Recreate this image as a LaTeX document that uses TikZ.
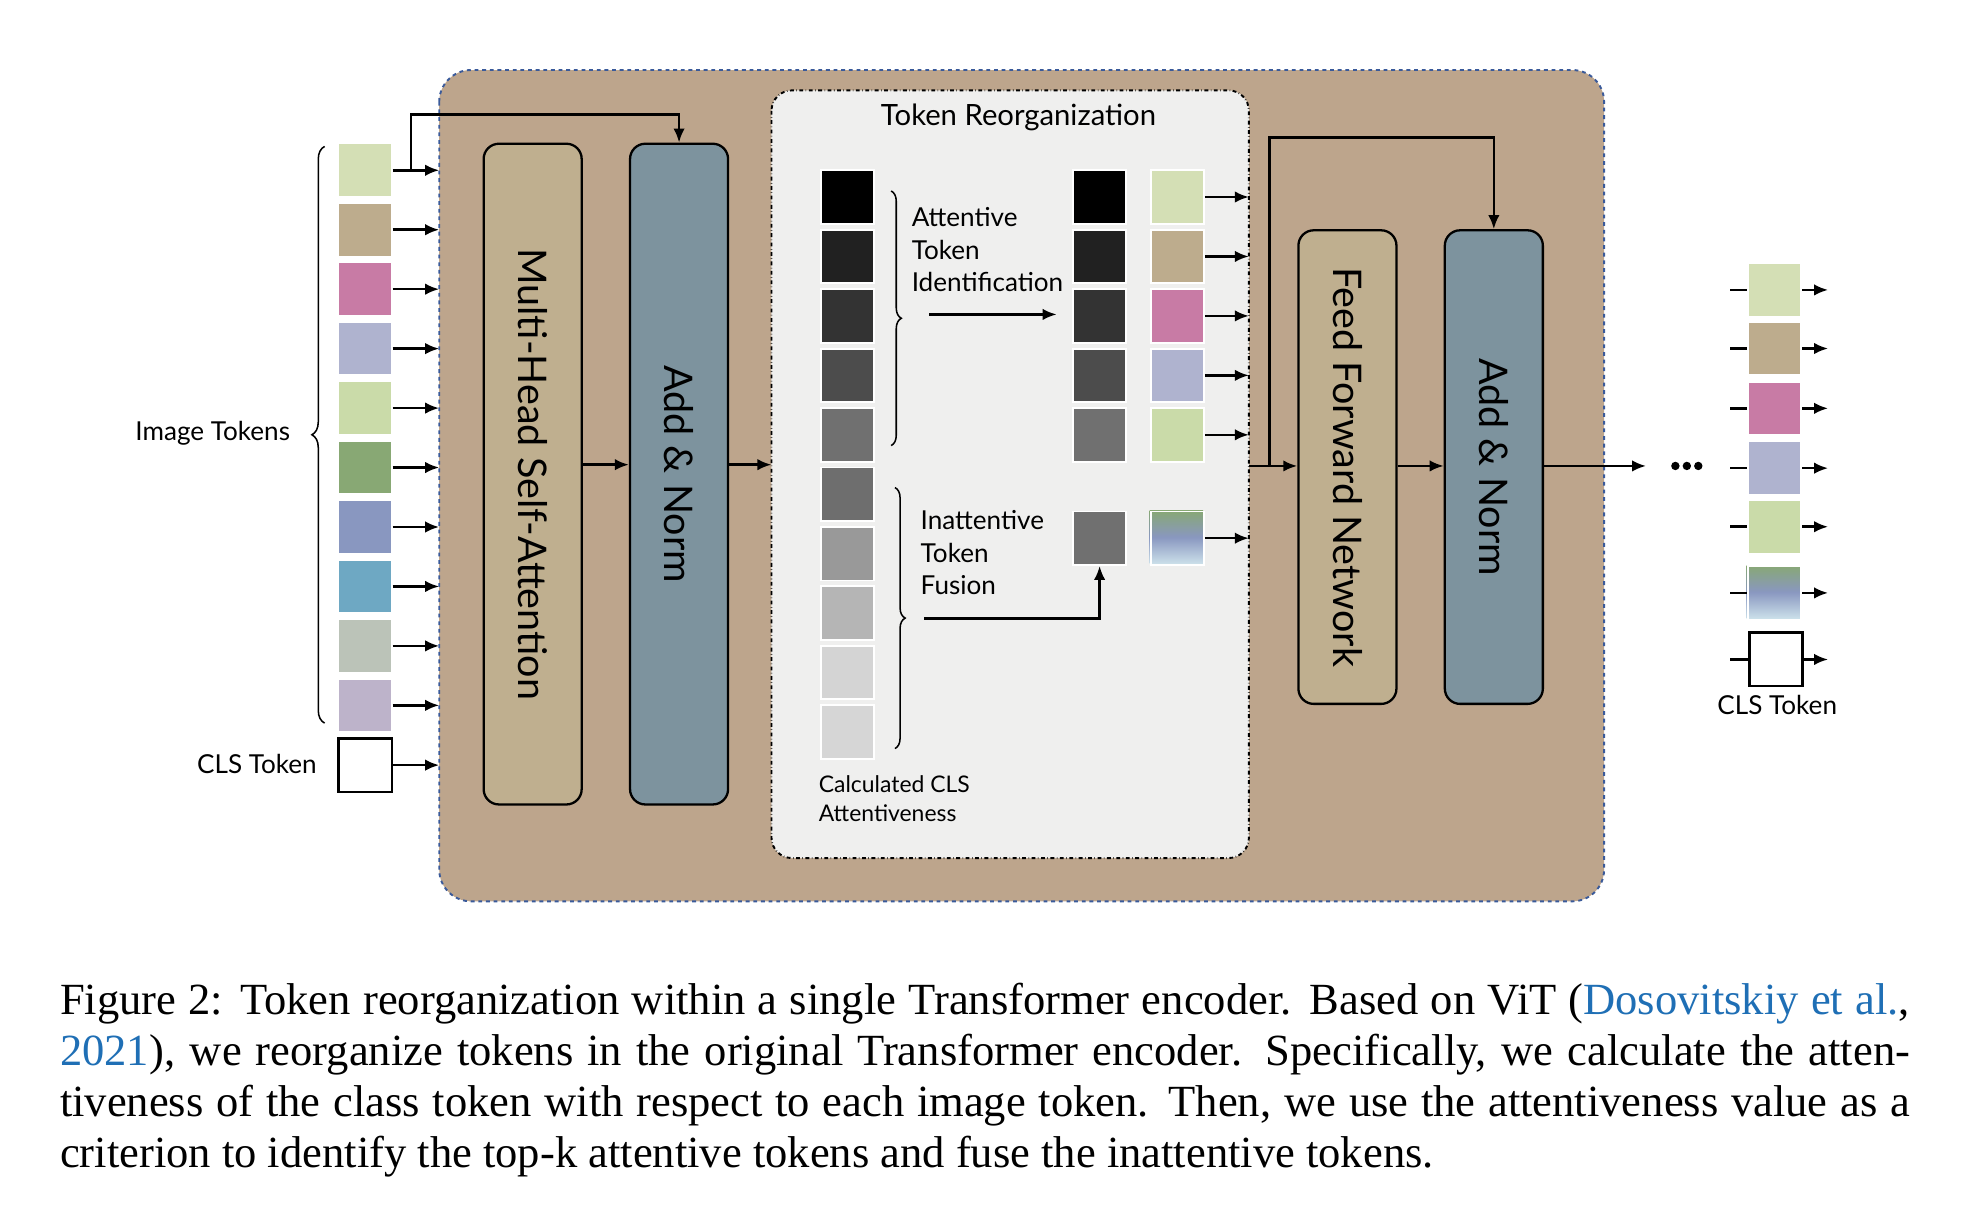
\documentclass[tikz,border=0pt]{standalone}
\usepackage{fontspec}
\setmainfont{Liberation Serif}
\newfontfamily\dsans{Lato}
\usetikzlibrary{arrows.meta,decorations.pathreplacing,calc}
\definecolor{outerfill}{HTML}{BDA58C}
\definecolor{innerfill}{HTML}{EFEFEE}
\definecolor{blockA}{HTML}{BFAF8F}
\definecolor{blockB}{HTML}{7D939E}
\definecolor{dashblue}{HTML}{3A5A9A}
\definecolor{linkblue}{HTML}{1F6FB5}
\definecolor{tA}{HTML}{D4DFB5}
\definecolor{tB}{HTML}{BDAC8D}
\definecolor{tC}{HTML}{C87BA5}
\definecolor{tD}{HTML}{AFB3CF}
\definecolor{tE}{HTML}{CADBA9}
\definecolor{tF}{HTML}{88A874}
\definecolor{tG}{HTML}{8997C0}
\definecolor{tH}{HTML}{6EA8C3}
\definecolor{tI}{HTML}{BBC3B8}
\definecolor{tJ}{HTML}{BDB3CA}
\tikzset{
  tok/.style={draw=white, line width=1.5pt, minimum width=42pt, minimum height=42pt, inner sep=0pt, anchor=north west},
  cls/.style={draw=black, line width=2pt, fill=white, minimum width=42pt, minimum height=42pt, inner sep=0pt, anchor=north west},
  block/.style={draw=black, line width=1.8pt, rounded corners=12pt, minimum width=77pt, minimum height=519pt, inner sep=0pt, anchor=north west},
  arr/.style={-{Latex[length=11pt,width=9pt]}, line width=2pt},
  ln/.style={line width=2pt},
  lbl/.style={font=\dsans\fontsize{20.5}{25.5}\selectfont, inner sep=0pt},
  big/.style={font=\dsans\fontsize{31}{34}\selectfont, rotate=-90, inner sep=0pt},
  grad/.style={top color=tF, bottom color=tH!35!white, middle color=tG},
}
\begin{document}
\begin{tikzpicture}[x=1pt,y=-1pt]
\useasboundingbox (0,0) rectangle (1560,955);
% outer encoder
\draw[fill=outerfill, draw=dashblue, dashed, line width=1.5pt, rounded corners=25pt] (345,55) rectangle (1260,708);
\coordinate (ow) at (345,0);
% inner reorganization box
\draw[fill=innerfill, draw=black, dash dot, line width=1.5pt, rounded corners=16pt] (606,71) rectangle (981,674);
\node[lbl, font=\dsans\fontsize{23}{27}\selectfont] (title) at (800,92) {Token Reorganization};
% input tokens
\foreach \c [count=\i] in {tA,tB,tC,tD,tE,tF,tG,tH,tI,tJ}{
  \node[tok, fill=\c] (l\i) at (265,{112+46.7*(\i-1)}) {};
  \draw[arr] (l\i.east) -- (l\i.east -| ow);
}
\node[cls] (lcls) at (265,579) {};
\draw[arr] (lcls.east) -- (lcls.east -| ow);
\draw[decorate, decoration={brace, amplitude=10pt}, line width=1.2pt] (255,568) -- (255,115);
\node[lbl, anchor=east] (imgt) at (228,340) {Image Tokens};
\node[lbl, anchor=east] (clst) at (249,600) {CLS Token};
% blocks
\node[block, fill=blockA] (mhsa) at (379,112) {};
\node[big] at (mhsa.center) {Multi-Head Self-Attention};
\node[block, fill=blockB] (an1) at (494,112) {};
\node[big] at (an1.center) {Add \& Norm};
\draw[arr] (mhsa.east |- 0,365) -- (an1.west |- 0,365);
\coordinate (inw) at (606,365);
\draw[arr] (an1.east |- inw) -- (inw);
\coordinate (r1) at (323,0);
\draw[arr] (l1.east -| r1) -- (r1 |- 0,90) -- (an1.north |- 0,90) -- (an1.north);
% grey attentiveness column
\foreach \g [count=\i] in {0,13,20,30,44,43,60,71,83,84}{
  \node[tok, fill=white!\g!black] (g\i) at (644,{133+46.7*(\i-1)}) {};
}
\draw[decorate, decoration={brace, amplitude=8pt}, line width=1.2pt] (700,150) -- (700,350);
\node[lbl, anchor=north west, align=left] (att) at (716,163) {Attentive\\Token\\Identification};
\draw[arr] (730,247) -- (830,247);
\draw[decorate, decoration={brace, amplitude=8pt}, line width=1.2pt] (703,383) -- (703,588);
\node[lbl, anchor=north west, align=left] (inatt) at (723,401) {Inattentive\\Token\\Fusion};
\node[lbl, anchor=north west, align=left, font=\dsans\fontsize{18}{23}\selectfont] (calc) at (643,609) {Calculated CLS\\Attentiveness};
% reorganized tokens
\foreach \g [count=\i] in {0,13,20,30,44}{
  \node[tok, fill=white!\g!black] (k\i) at (842,{133+46.7*(\i-1)}) {};
}
\node[tok, fill=white!44!black] (kf) at (842,401) {};
\draw[arr] (726,486) -- (kf.south |- 0,486) -- (kf.south);
\coordinate (iw) at (981,0);
\foreach \c [count=\i] in {tA,tB,tC,tD,tE}{
  \node[tok, fill=\c] (c\i) at (903,{133+46.7*(\i-1)}) {};
  \draw[arr] (c\i.east) -- (c\i.east -| iw);
}
\shade[grad] (903,401) rectangle (945,443);
\node[tok, fill=none] (cf) at (903,401) {};
\draw[arr] (cf.east) -- (cf.east -| iw);
% second half
\node[block, fill=blockA, minimum height=372pt] (ffn) at (1019,180) {};
\node[big] at (ffn.center) {Feed Forward Network};
\node[block, fill=blockB, minimum height=372pt] (an2) at (1134,180) {};
\node[big] at (an2.center) {Add \& Norm};
\coordinate (ine) at (981,366);
\draw[arr] (ine) -- (ffn.west |- ine);
\coordinate (r2) at (997,366);
\draw[arr] (r2) -- (r2 |- 0,108) -- (an2.north |- 0,108) -- (an2.north);
\draw[arr] (ffn.east |- ine) -- (an2.west |- ine);
\coordinate (outend) at (1293,366);
\draw[arr] (an2.east |- ine) -- (outend);
\node[inner sep=0pt] (dots) at (1325,366) {};
\foreach \dx in {-9,0,9} \fill ($(dots)+(\dx,0)$) circle (3.3pt);
% output tokens
\coordinate (ol) at (1359,0);
\coordinate (or) at (1436,0);
\foreach \c/\t [count=\i] in {tA/206,tB/252,tC/299,tD/346,tE/392}{
  \node[tok, fill=\c] (o\i) at (1372,\t) {};
  \draw[ln] (o\i.west -| ol) -- (o\i.west);
  \draw[arr] (o\i.east) -- (o\i.east -| or);
}
\shade[grad] (1372,444) rectangle (1414,486);
\node[tok, fill=none] (of) at (1372,444) {};
\draw[ln] (of.west -| ol) -- (of.west);
\draw[arr] (of.east) -- (of.east -| or);
\node[cls] (ocls) at (1373,496) {};
\draw[ln] (ocls.west -| ol) -- (ocls.west);
\draw[arr] (ocls.east) -- (ocls.east -| or);
\node[lbl] (oclst) at (1396,554) {CLS Token};
% caption
\node[anchor=north west, inner sep=0pt, text width=1453pt, align=justify, font=\fontsize{35}{40}\selectfont] (cap) at (47,772)
{Figure 2: Token reorganization within a single Transformer encoder. Based on ViT (\textcolor{linkblue}{Dosovitskiy et al.}, \textcolor{linkblue}{2021}), we reorganize tokens in the original Transformer encoder. Specifically, we calculate the attentiveness of the class token with respect to each image token. Then, we use the attentiveness value as a criterion to identify the top-k attentive tokens and fuse the inattentive tokens.};
\end{tikzpicture}
\end{document}
